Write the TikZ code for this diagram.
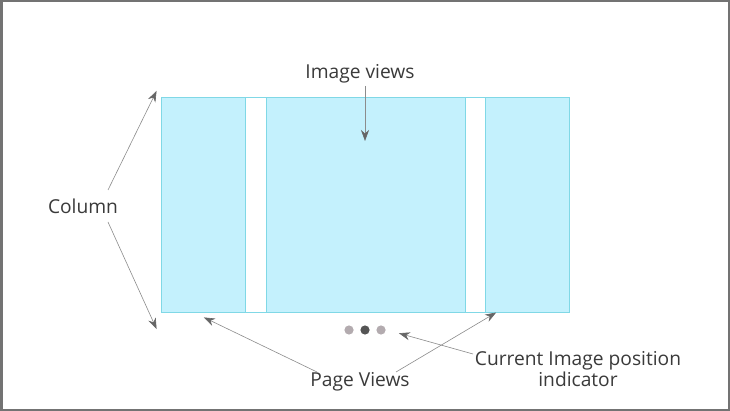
\documentclass[tikz,border=0pt]{standalone}
\usepackage{fontspec}
\setmainfont{Open Sans}
\usetikzlibrary{arrows.meta,positioning}
\definecolor{panelfill}{HTML}{C4F1FD}
\definecolor{paneledge}{HTML}{80D8E6}
\definecolor{txtgray}{HTML}{3A3A3A}
\definecolor{dotlight}{HTML}{B3ABAF}
\definecolor{dotdark}{HTML}{555555}
\definecolor{linegray}{HTML}{8C8C8C}
\definecolor{tipgray}{HTML}{666666}
\tikzset{
  panel/.style={fill=panelfill,draw=paneledge,line width=0.8pt,minimum height=215pt,inner sep=0pt},
  lbl/.style={text=txtgray,font=\fontsize{19.2}{19}\selectfont,inner sep=1pt},
  pointer/.style={draw=linegray,line width=0.6pt,-{Stealth[length=11pt,width=8pt,fill=tipgray,color=tipgray]},shorten >=1pt}
}
\begin{document}
\begin{tikzpicture}[x=1pt,y=-1pt]
\draw[fill=white,draw=gray!90!black,line width=2.5pt](1.25,1.25) rectangle (728.75,409.75);
\useasboundingbox (0,0) rectangle (730,411);
% outer frame and panels
\draw[paneledge,line width=0.8pt] (161,97) rectangle (569,312);
\node[panel,minimum width=84pt] (left) at (203,204.5) {};
\node[panel,minimum width=199pt] (mid) at (365.5,204.5) {};
\node[panel,minimum width=84pt] (right) at (527,204.5) {};
% indicator dots
\fill[dotlight] (349,330) circle (4.6pt) coordinate (d1);
\fill[dotdark] (365,330) circle (4.6pt) coordinate (d2);
\fill[dotlight] (381,330) circle (4.6pt) coordinate (d3);
% labels
\node[lbl] (imgviews) at (360,74) {Image views};
\node[lbl] (column) at (83,206) {Column};
\node[lbl] (pageviews) at (360,382) {Page Views};
\node[lbl,align=center] (current) at (578,369) {Current Image position\\indicator};
% arrows
\coordinate (ctop) at (157,90);
\coordinate (cbot) at (157,330);
\coordinate (pleft) at (203,317);
\coordinate (pright) at (497,312);
\coordinate (ind) at (398,333);
\draw[pointer] (365,86) -- (365,142);
\draw[pointer] (108,190) -- (ctop);
\draw[pointer] (108,222) -- (cbot);
\draw[pointer] (317,372) -- (pleft);
\draw[pointer] (396,372) -- (pright);
\draw[pointer] (473,354) -- (ind);
\end{tikzpicture}
\end{document}
